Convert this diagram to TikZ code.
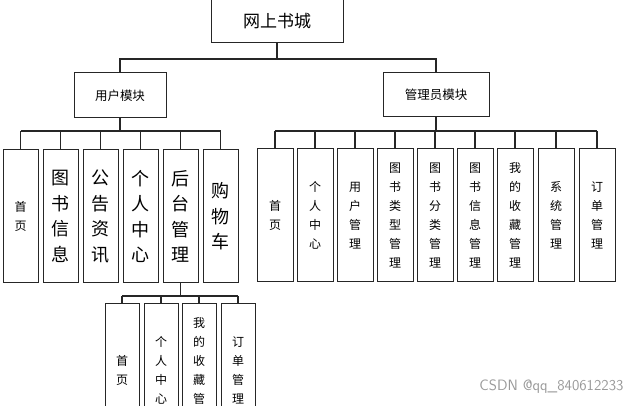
\documentclass[tikz,border=0pt]{standalone}
\usepackage{fontspec}
\setmainfont{Noto Sans CJK SC}
\begin{document}
\begin{tikzpicture}[x=1pt,y=-1pt,
  box/.style={draw=black!85,line width=1pt,fill=white,inner sep=0pt,align=center},
  ln/.style={draw=black!85,line width=1.2pt},
  vt/.style={font=\fontsize{12}{19}\selectfont},
  vb/.style={font=\fontsize{18}{25.5}\selectfont}]
\useasboundingbox (0,0) rectangle (641,406);
\clip (0,0) rectangle (641,406);
% root & modules
\node[box,minimum width=132pt,minimum height=43pt,font=\fontsize{17}{20}\selectfont] (root) at (277,21) {网上书城};
\node[box,minimum width=92pt,minimum height=45pt,font=\fontsize{12.5}{15}\selectfont] (user) at (120,95.5) {用户模块};
\node[box,minimum width=106pt,minimum height=44pt,font=\fontsize{12.5}{15}\selectfont] (admin) at (436,95) {管理员模块};
\draw[ln] (root.south) -- (277,59) coordinate (rj);
\draw[ln] (user.north) |- (rj) -| (admin.north);
% user children
\foreach \n/\x/\t/\s in {u1/20.5/首\\页/vt, u2/60.5/图\\书\\信\\息/vb, u3/100.5/公\\告\\资\\讯/vb, u4/140.5/个\\人\\中\\心/vb, u5/180.5/后\\台\\管\\理/vb, u6/220.5/购\\物\\车/vb}{
  \node[box,minimum width=35pt,minimum height=133pt,\s] (\n) at (\x,216.5) {\t};
  \draw[ln] (\n.north) -- (\x,131);
}
\draw[ln] (u1.north |- 0,131) -- (u6.north |- 0,131);
\draw[ln] (user.south) -- (120,131);
% sub children
\foreach \n/\x/\t in {s1/122/首\\页, s2/161/个\\人\\中\\心, s3/199/我\\的\\收\\藏\\管\\理, s4/238/订\\单\\管\\理}{
  \node[box,minimum width=34pt,minimum height=132pt,vt] (\n) at (\x,370) {\t};
  \draw[ln] (\n.north) -- (\x,296);
}
\draw[ln] (122,296) -- (238,296);
\draw[ln] (u5.south) -- (180.5,296);
% admin children
\foreach \n/\x/\t in {a1/275/首\\页, a2/315/个\\人\\中\\心, a3/355/用\\户\\管\\理, a4/395/图\\书\\类\\型\\管\\理, a5/435/图\\书\\分\\类\\管\\理, a6/475/图\\书\\信\\息\\管\\理, a7/515/我\\的\\收\\藏\\管\\理, a8/556/系\\统\\管\\理, a9/597/订\\单\\管\\理}{
  \node[box,minimum width=36pt,minimum height=133pt,vt] (\n) at (\x,215.5) {\t};
  \draw[ln] (\n.north) -- (\x,131);
}
\draw[ln] (275,131) -- (597,131);
\draw[ln] (admin.south) -- (436,131);
\node[text=black!40,font=\fontsize{15}{18}\selectfont\sffamily,anchor=east] (wm) at (627,387) {CSDN @qq\_840612233};
\end{tikzpicture}
\end{document}
